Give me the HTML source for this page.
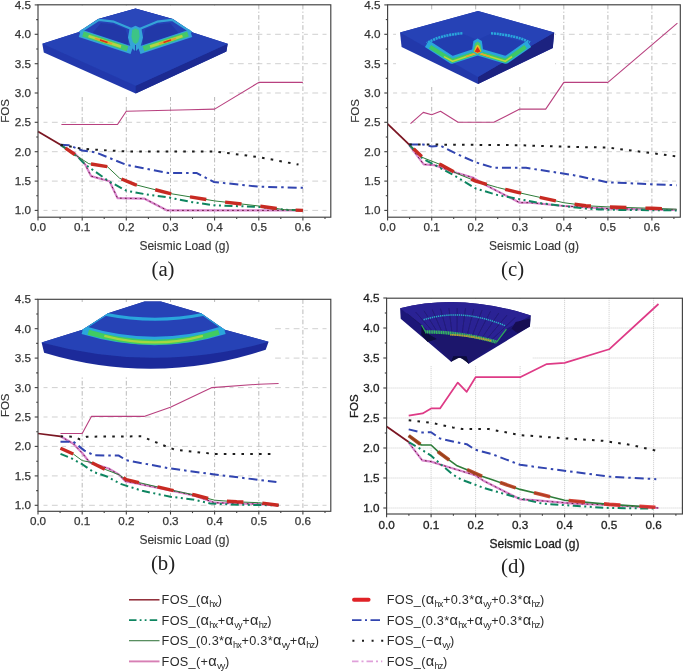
<!DOCTYPE html>
<html lang="en"><head><meta charset="utf-8"><title>FOS vs Seismic Load</title>
<style>
html,body{margin:0;padding:0;background:#fff;}
body{width:685px;height:672px;overflow:hidden;}
svg{display:block;}
.tk{font-family:"Liberation Sans", Arial, sans-serif;font-size:11.7px;fill:#353535;stroke:#353535;stroke-width:0.25px;}
.xl{font-family:"Liberation Sans", Arial, sans-serif;font-size:12px;fill:#353535;stroke:#353535;stroke-width:0.15px;}
.yl{font-family:"Liberation Sans", Arial, sans-serif;font-size:11.5px;fill:#353535;stroke:#353535;stroke-width:0.15px;}
.bd{fill:#1e1e1e;stroke:#1e1e1e;stroke-width:0.32px;}
.cap{font-family:"Liberation Serif", "Times New Roman", serif;font-size:20.8px;fill:#222;}
.lg{font-family:"Liberation Sans", Arial, sans-serif;font-size:12.7px;fill:#2a2a2a;letter-spacing:0.3px;}
.sub{font-size:9.2px;letter-spacing:-0.8px;}
.al{font-size:14.6px;}
</style></head><body>
<svg width="685" height="672" viewBox="0 0 685 672">
<defs><linearGradient id="rdg" gradientUnits="userSpaceOnUse" x1="405" y1="0" x2="660" y2="0"><stop offset="0" stop-color="#9c3812"/><stop offset="0.45" stop-color="#b83a1c"/><stop offset="0.75" stop-color="#d42c24"/><stop offset="1" stop-color="#e22a30"/></linearGradient><filter id="soft0" x="-2%" y="-2%" width="104%" height="104%"><feGaussianBlur stdDeviation="0.3"/></filter><filter id="soft" x="-2%" y="-2%" width="104%" height="104%"><feGaussianBlur stdDeviation="0.45"/></filter><filter id="soft2" x="-5%" y="-5%" width="110%" height="110%"><feGaussianBlur stdDeviation="0.55"/></filter></defs>
<rect width="685" height="672" fill="#fff"/>
<g filter="url(#soft0)">
<line x1="82.2" y1="4.8" x2="82.2" y2="217.2" stroke="#9c9c9c" stroke-width="0.7" stroke-dasharray="4.6 2.2 1.2 2.2"/>
<line x1="126.3" y1="4.8" x2="126.3" y2="217.2" stroke="#9c9c9c" stroke-width="0.7" stroke-dasharray="4.6 2.2 1.2 2.2"/>
<line x1="170.5" y1="4.8" x2="170.5" y2="217.2" stroke="#9c9c9c" stroke-width="0.7" stroke-dasharray="4.6 2.2 1.2 2.2"/>
<line x1="214.6" y1="4.8" x2="214.6" y2="217.2" stroke="#9c9c9c" stroke-width="0.7" stroke-dasharray="4.6 2.2 1.2 2.2"/>
<line x1="258.8" y1="4.8" x2="258.8" y2="217.2" stroke="#9c9c9c" stroke-width="0.7" stroke-dasharray="4.6 2.2 1.2 2.2"/>
<line x1="302.9" y1="4.8" x2="302.9" y2="217.2" stroke="#9c9c9c" stroke-width="0.7" stroke-dasharray="4.6 2.2 1.2 2.2"/>
<line x1="43.5" y1="210.4" x2="330.8" y2="210.4" stroke="#bcbcbc" stroke-width="0.7" stroke-dasharray="4 4.4 5.8 4.4"/>
<line x1="43.5" y1="181.1" x2="330.8" y2="181.1" stroke="#bcbcbc" stroke-width="0.7" stroke-dasharray="4 4.4 5.8 4.4"/>
<line x1="43.5" y1="151.7" x2="330.8" y2="151.7" stroke="#bcbcbc" stroke-width="0.7" stroke-dasharray="4 4.4 5.8 4.4"/>
<line x1="43.5" y1="122.3" x2="330.8" y2="122.3" stroke="#bcbcbc" stroke-width="0.7" stroke-dasharray="4 4.4 5.8 4.4"/>
<line x1="43.5" y1="93.0" x2="330.8" y2="93.0" stroke="#bcbcbc" stroke-width="0.7" stroke-dasharray="4 4.4 5.8 4.4"/>
<line x1="43.5" y1="63.7" x2="330.8" y2="63.7" stroke="#bcbcbc" stroke-width="0.7" stroke-dasharray="4 4.4 5.8 4.4"/>
<line x1="43.5" y1="34.3" x2="330.8" y2="34.3" stroke="#bcbcbc" stroke-width="0.7" stroke-dasharray="4 4.4 5.8 4.4"/>
<line x1="431.7" y1="4.8" x2="431.7" y2="217.2" stroke="#9c9c9c" stroke-width="0.7" stroke-dasharray="4.6 2.2 1.2 2.2"/>
<line x1="475.7" y1="4.8" x2="475.7" y2="217.2" stroke="#9c9c9c" stroke-width="0.7" stroke-dasharray="4.6 2.2 1.2 2.2"/>
<line x1="519.8" y1="4.8" x2="519.8" y2="217.2" stroke="#9c9c9c" stroke-width="0.7" stroke-dasharray="4.6 2.2 1.2 2.2"/>
<line x1="563.8" y1="4.8" x2="563.8" y2="217.2" stroke="#9c9c9c" stroke-width="0.7" stroke-dasharray="4.6 2.2 1.2 2.2"/>
<line x1="607.9" y1="4.8" x2="607.9" y2="217.2" stroke="#9c9c9c" stroke-width="0.7" stroke-dasharray="4.6 2.2 1.2 2.2"/>
<line x1="651.9" y1="4.8" x2="651.9" y2="217.2" stroke="#9c9c9c" stroke-width="0.7" stroke-dasharray="4.6 2.2 1.2 2.2"/>
<line x1="393.1" y1="210.4" x2="680.3" y2="210.4" stroke="#bcbcbc" stroke-width="0.7" stroke-dasharray="4 4.4 5.8 4.4"/>
<line x1="393.1" y1="181.1" x2="680.3" y2="181.1" stroke="#bcbcbc" stroke-width="0.7" stroke-dasharray="4 4.4 5.8 4.4"/>
<line x1="393.1" y1="151.7" x2="680.3" y2="151.7" stroke="#bcbcbc" stroke-width="0.7" stroke-dasharray="4 4.4 5.8 4.4"/>
<line x1="393.1" y1="122.3" x2="680.3" y2="122.3" stroke="#bcbcbc" stroke-width="0.7" stroke-dasharray="4 4.4 5.8 4.4"/>
<line x1="393.1" y1="93.0" x2="680.3" y2="93.0" stroke="#bcbcbc" stroke-width="0.7" stroke-dasharray="4 4.4 5.8 4.4"/>
<line x1="393.1" y1="63.7" x2="680.3" y2="63.7" stroke="#bcbcbc" stroke-width="0.7" stroke-dasharray="4 4.4 5.8 4.4"/>
<line x1="393.1" y1="34.3" x2="680.3" y2="34.3" stroke="#bcbcbc" stroke-width="0.7" stroke-dasharray="4 4.4 5.8 4.4"/>
<line x1="82.2" y1="299.3" x2="82.2" y2="511.3" stroke="#9c9c9c" stroke-width="0.7" stroke-dasharray="4.6 2.2 1.2 2.2"/>
<line x1="126.3" y1="299.3" x2="126.3" y2="511.3" stroke="#9c9c9c" stroke-width="0.7" stroke-dasharray="4.6 2.2 1.2 2.2"/>
<line x1="170.5" y1="299.3" x2="170.5" y2="511.3" stroke="#9c9c9c" stroke-width="0.7" stroke-dasharray="4.6 2.2 1.2 2.2"/>
<line x1="214.6" y1="299.3" x2="214.6" y2="511.3" stroke="#9c9c9c" stroke-width="0.7" stroke-dasharray="4.6 2.2 1.2 2.2"/>
<line x1="258.8" y1="299.3" x2="258.8" y2="511.3" stroke="#9c9c9c" stroke-width="0.7" stroke-dasharray="4.6 2.2 1.2 2.2"/>
<line x1="302.9" y1="299.3" x2="302.9" y2="511.3" stroke="#9c9c9c" stroke-width="0.7" stroke-dasharray="4.6 2.2 1.2 2.2"/>
<line x1="43.5" y1="505.3" x2="330.8" y2="505.3" stroke="#bcbcbc" stroke-width="0.7" stroke-dasharray="4 4.4 5.8 4.4"/>
<line x1="43.5" y1="475.9" x2="330.8" y2="475.9" stroke="#bcbcbc" stroke-width="0.7" stroke-dasharray="4 4.4 5.8 4.4"/>
<line x1="43.5" y1="446.4" x2="330.8" y2="446.4" stroke="#bcbcbc" stroke-width="0.7" stroke-dasharray="4 4.4 5.8 4.4"/>
<line x1="43.5" y1="417.0" x2="330.8" y2="417.0" stroke="#bcbcbc" stroke-width="0.7" stroke-dasharray="4 4.4 5.8 4.4"/>
<line x1="43.5" y1="387.6" x2="330.8" y2="387.6" stroke="#bcbcbc" stroke-width="0.7" stroke-dasharray="4 4.4 5.8 4.4"/>
<line x1="43.5" y1="358.1" x2="330.8" y2="358.1" stroke="#bcbcbc" stroke-width="0.7" stroke-dasharray="4 4.4 5.8 4.4"/>
<line x1="43.5" y1="328.7" x2="330.8" y2="328.7" stroke="#bcbcbc" stroke-width="0.7" stroke-dasharray="4 4.4 5.8 4.4"/>
<line x1="431.1" y1="298.2" x2="431.1" y2="514.0" stroke="#c6c6c6" stroke-width="0.9" stroke-dasharray="1 1"/>
<line x1="475.6" y1="298.2" x2="475.6" y2="514.0" stroke="#c6c6c6" stroke-width="0.9" stroke-dasharray="1 1"/>
<line x1="520.1" y1="298.2" x2="520.1" y2="514.0" stroke="#c6c6c6" stroke-width="0.9" stroke-dasharray="1 1"/>
<line x1="564.6" y1="298.2" x2="564.6" y2="514.0" stroke="#c6c6c6" stroke-width="0.9" stroke-dasharray="1 1"/>
<line x1="609.1" y1="298.2" x2="609.1" y2="514.0" stroke="#c6c6c6" stroke-width="0.9" stroke-dasharray="1 1"/>
<line x1="653.6" y1="298.2" x2="653.6" y2="514.0" stroke="#c6c6c6" stroke-width="0.9" stroke-dasharray="1 1"/>
<line x1="386.6" y1="508.0" x2="682.4" y2="508.0" stroke="#c6c6c6" stroke-width="0.9" stroke-dasharray="1 1"/>
<line x1="386.6" y1="478.0" x2="682.4" y2="478.0" stroke="#c6c6c6" stroke-width="0.9" stroke-dasharray="1 1"/>
<line x1="386.6" y1="448.0" x2="682.4" y2="448.0" stroke="#c6c6c6" stroke-width="0.9" stroke-dasharray="1 1"/>
<line x1="386.6" y1="418.0" x2="682.4" y2="418.0" stroke="#c6c6c6" stroke-width="0.9" stroke-dasharray="1 1"/>
<line x1="386.6" y1="388.0" x2="682.4" y2="388.0" stroke="#c6c6c6" stroke-width="0.9" stroke-dasharray="1 1"/>
<line x1="386.6" y1="358.0" x2="682.4" y2="358.0" stroke="#c6c6c6" stroke-width="0.9" stroke-dasharray="1 1"/>
<line x1="386.6" y1="328.0" x2="682.4" y2="328.0" stroke="#c6c6c6" stroke-width="0.9" stroke-dasharray="1 1"/>
</g>
<g filter="url(#soft)">
<rect x="38.5" y="5.5" width="189.5" height="91.5" fill="#fff"/>
<g filter="url(#soft2)">
<polygon points="42.3,43.8 78.2,32.2 98.1,19.0 135.5,8.6 172.9,19.0 192.8,32.6 227.7,43.8 226.4,51.4 135.7,93.6 43.8,52.6" fill="#2239ac"/>
<polygon points="135.7,85.6 227.7,43.8 226.4,51.4 135.7,93.6" fill="#1b2c92"/>
<polygon points="42.3,43.8 78.2,32.2 98.1,19.0 135.5,8.6 172.9,19.0 192.8,32.6 227.7,43.8 135.7,85.8" fill="#2642b6"/>
<polygon points="98.1,19.3 135.5,8.8 172.9,19.3 135.5,29.0" fill="#2946ba"/>
<polygon points="101.0,23.0 113.9,24.4 125.5,29.0 128.6,38.5 127.6,46.0 92.0,33.5" fill="#2139a8"/>
<polygon points="170.0,23.0 157.1,24.4 145.5,29.0 142.4,38.5 143.4,46.0 179.0,33.5" fill="#2139a8"/>
<polyline points="79.5,32.4 98.9,19.9 113.9,21.7 127.2,27.2 131.5,29.0" fill="none" stroke="#34a4d8" stroke-width="2.3" stroke-linejoin="round"/>
<polyline points="191.5,32.4 172.1,19.9 157.1,21.7 143.8,27.2 139.5,29.0" fill="none" stroke="#34a4d8" stroke-width="2.3" stroke-linejoin="round"/>
<polygon points="129.6,28.5 135.5,25.8 141.4,28.5 143.0,37.5 140.6,46.5 135.5,51.5 130.4,46.5 128.0,37.5" fill="#34a4d8"/>
<polygon points="132.2,30.0 135.5,28.2 138.8,30.0 139.6,36.5 138.2,42.0 135.5,44.0 132.8,42.0 131.4,36.5" fill="#3cc486"/>
<line x1="135.5" y1="45" x2="135.5" y2="52" stroke="#2139a8" stroke-width="0.9"/>
<polyline points="80.0,33.2 131.8,50.4" fill="none" stroke="#34a4d8" stroke-width="7.8"/>
<polyline points="191.0,33.2 139.2,50.4" fill="none" stroke="#34a4d8" stroke-width="7.8"/>
<polyline points="83.0,34.0 127.5,48.8" fill="none" stroke="#44c86a" stroke-width="5.2"/>
<polyline points="188.0,34.0 143.5,48.8" fill="none" stroke="#44c86a" stroke-width="5.2"/>
<polyline points="88.5,36.0 121.0,46.6" fill="none" stroke="#b4d444" stroke-width="2.8"/>
<polyline points="182.5,36.0 150.0,46.6" fill="none" stroke="#b4d444" stroke-width="2.8"/>
<polyline points="95.0,38.3 112.0,43.9" fill="none" stroke="#e0a030" stroke-width="1.8"/>
<polyline points="176.0,38.3 159.0,43.9" fill="none" stroke="#e0a030" stroke-width="1.8"/>
<polyline points="100.0,40.0 107.5,42.5" fill="none" stroke="#dc3018" stroke-width="1.7"/>
<polyline points="171.0,40.0 163.5,42.5" fill="none" stroke="#dc3018" stroke-width="1.7"/>
</g>
<rect x="396.0" y="10.0" width="159.0" height="77.0" fill="#fff"/>
<g filter="url(#soft2)">
<polygon points="400.0,32.4 478.0,11.0 554.2,32.4 552.8,48.0 478.0,84.0 401.6,47.0" fill="#2239aa"/>
<polygon points="478.0,76.7 554.2,32.4 552.8,48.0 478.0,84.0" fill="#1d2280"/>
<polygon points="400.0,32.4 478.0,11.0 554.2,32.4 478.0,76.9" fill="#2642b6"/>
<polygon points="428.0,43.0 462.0,33.5 477.6,40.0 491.0,33.5 526.0,43.0 506.0,60.0 477.6,51.5 452.0,60.0" fill="#233eb0"/>
<path d="M462.4,33.3 Q440,35 426.8,43.2" fill="none" stroke="#2aa6dc" stroke-width="2.6" stroke-dasharray="2.1 0.7"/>
<path d="M491,33.3 Q515,35 530,42.4" fill="none" stroke="#2aa6dc" stroke-width="2.6" stroke-dasharray="2.1 0.7"/>
<polyline points="427.0,43.8 452.0,60.0 477.6,51.6 506.0,60.0 529.0,43.8" fill="none" stroke="#2aa6dc" stroke-width="7.6" stroke-linejoin="round"/>
<polyline points="430.0,46.8 452.4,60.8 477.6,52.4 505.6,60.8 525.6,46.8" fill="none" stroke="#3cc868" stroke-width="4.2" stroke-linejoin="round"/>
<polyline points="444.0,56.6 452.6,61.2 477.6,52.8 505.4,61.2 512.0,56.6" fill="none" stroke="#bcd63c" stroke-width="1.6" stroke-linejoin="round"/>
<polyline points="466.0,56.6 477.6,52.8 490.0,56.8" fill="none" stroke="#e8a42c" stroke-width="1.6" stroke-linejoin="round"/>
<polygon points="473.4,41.0 477.6,38.6 481.8,41.0 483.4,52.0 477.6,55.0 471.8,52.0" fill="#2aa6dc"/>
<polygon points="475.0,43.5 477.6,41.5 480.2,43.5 482.0,51.5 477.6,54.0 473.2,51.5" fill="#4ccc6a"/>
<polygon points="476.0,46.0 477.6,44.5 479.2,46.0 481.2,51.6 477.6,53.4 474.0,51.6" fill="#e8c028"/>
<polygon points="477.6,46.8 480.6,51.6 477.6,52.8 474.6,51.6" fill="#de2a18"/>
</g>
<rect x="38.5" y="302.0" width="232.5" height="74.0" fill="#fff"/>
<g filter="url(#soft2)">
<path d="M41.6,342.4 L82.4,329.7 L108.0,313.2 L144.5,301.6 L160.9,301.6 L201.1,313.2 L224.8,329.7 L268.6,341.7 L265.7,349.7 Q155.4,386.2 44.1,352.7 Z" fill="#1d2c9a"/>
<clipPath id="cpb"><path d="M41.6,342.4 L82.4,329.7 L108.0,313.2 L144.5,301.6 L160.9,301.6 L201.1,313.2 L224.8,329.7 L268.6,341.7 Q155.4,373.5 41.6,342.4 Z"/></clipPath>
<path d="M41.6,342.4 L82.4,329.7 L108.0,313.2 L144.5,301.6 L160.9,301.6 L201.1,313.2 L224.8,329.7 L268.6,341.7 Q155.4,373.5 41.6,342.4 Z" fill="#2743b6"/>
<g clip-path="url(#cpb)">
<polyline points="82.4,330.0 108.0,313.6" fill="none" stroke="#2aa6dc" stroke-width="1.6"/>
<polyline points="224.8,330.0 201.1,313.6" fill="none" stroke="#2aa6dc" stroke-width="1.6"/>
<path d="M105.1,314.3 Q155.4,324.2 204.0,314.3" fill="none" stroke="#2aa6dc" stroke-width="3.0"/>
<path d="M82.8,330.0 Q155.4,351.9 224.4,330.0" fill="none" stroke="#2aa6dc" stroke-width="8.6"/>
<path d="M88.3,332.2 Q155.4,352.3 218.9,332.2" fill="none" stroke="#3fcb62" stroke-width="5.2"/>
<path d="M104.3,335.9 Q155.4,349.0 202.9,335.9" fill="none" stroke="#a4d640" stroke-width="2.2"/>
</g>
</g>
<rect x="387.5" y="299.0" width="145.0" height="67.0" fill="#fff"/>
<g filter="url(#soft2)">
<path d="M400.1,308.2 Q460.4,292.9 530.9,315.4 L529.9,326.6 L468.6,363.8 Q460.0,352.8 451.2,361.8 L400.7,318.8 Z" fill="#1f1878"/>
<path d="M400.1,308.2 Q460.4,292.9 530.9,315.4 L506.4,328.7 L496.6,342.6 Q460.4,332.7 425.7,332.7 L421.6,324.6 Z" fill="#2b2294"/>
<path d="M425.7,333.2 Q460.4,333.2 496.6,343.0 L468.6,363.8 Q460.0,352.8 451.2,361.8 L425.7,333.2 Z" fill="#1c166c"/>
<polygon points="421.6,325.0 426.1,332.7 436.9,338.9 427.7,341.9 421.2,334.8" fill="#0e0c40"/>
<polygon points="453.2,356.2 466.5,356.2 469.0,363.8 460.0,357.3 451.2,361.8" fill="#0c0a3a"/>
<polygon points="515.6,322.1 530.3,318.4 529.9,326.6 517.6,333.2 511.5,328.7" fill="#161052"/>
<line x1="407.3" y1="313.6" x2="427.7" y2="330.7" stroke="#141050" stroke-width="0.55" opacity="0.8"/>
<line x1="415.6" y1="312.0" x2="432.6" y2="331.4" stroke="#141050" stroke-width="0.55" opacity="0.8"/>
<line x1="423.9" y1="310.7" x2="437.5" y2="332.2" stroke="#141050" stroke-width="0.55" opacity="0.8"/>
<line x1="432.2" y1="309.5" x2="442.4" y2="332.9" stroke="#141050" stroke-width="0.55" opacity="0.8"/>
<line x1="440.5" y1="308.7" x2="447.3" y2="333.6" stroke="#141050" stroke-width="0.55" opacity="0.8"/>
<line x1="448.9" y1="308.1" x2="452.2" y2="334.3" stroke="#141050" stroke-width="0.55" opacity="0.8"/>
<line x1="457.2" y1="308.0" x2="457.0" y2="335.1" stroke="#141050" stroke-width="0.55" opacity="0.8"/>
<line x1="465.5" y1="308.2" x2="461.9" y2="335.8" stroke="#141050" stroke-width="0.55" opacity="0.8"/>
<line x1="473.8" y1="308.9" x2="466.8" y2="336.5" stroke="#141050" stroke-width="0.55" opacity="0.8"/>
<line x1="482.2" y1="309.9" x2="471.7" y2="337.3" stroke="#141050" stroke-width="0.55" opacity="0.8"/>
<line x1="490.5" y1="311.3" x2="476.6" y2="338.0" stroke="#141050" stroke-width="0.55" opacity="0.8"/>
<line x1="498.8" y1="313.0" x2="481.5" y2="338.7" stroke="#141050" stroke-width="0.55" opacity="0.8"/>
<line x1="507.1" y1="315.0" x2="486.4" y2="339.5" stroke="#141050" stroke-width="0.55" opacity="0.8"/>
<line x1="515.4" y1="317.3" x2="491.3" y2="340.2" stroke="#141050" stroke-width="0.55" opacity="0.8"/>
<line x1="523.8" y1="319.7" x2="496.2" y2="340.9" stroke="#141050" stroke-width="0.55" opacity="0.8"/>
<path d="M423.6,319.7 Q462.4,307.8 505.4,325.8" fill="none" stroke="#2ab0c6" stroke-width="1.5" stroke-dasharray="1.3 0.8"/>
<path d="M425.2,331.9 Q460.4,331.9 496.6,342.1" fill="none" stroke="#35b860" stroke-width="3.4" stroke-dasharray="1.3 0.45"/>
<path d="M450.2,334.8 Q468.6,335.2 491.1,340.9" fill="none" stroke="#c09a34" stroke-width="1.8" stroke-dasharray="1.3 0.45"/>
<polyline points="421.6,325.0 425.7,332.3" fill="none" stroke="#2fae58" stroke-width="1.2"/>
<polyline points="496.6,342.1 506.4,329.1" fill="none" stroke="#2fae58" stroke-width="1.2"/>
</g>
<polyline points="60.5,145.2 74.4,152.9 85.2,164.6 91.0,176.1 109.5,181.2 117.5,198.1 144.6,198.7 167.2,210.4 302.9,210.4" fill="none" stroke="#d884cc" stroke-width="2.2" stroke-linecap="butt" stroke-linejoin="round" />
<polyline points="60.5,145.2 74.4,152.9 85.2,164.6 91.0,176.1 109.5,181.2 117.5,198.1 144.6,198.7 167.2,210.4 302.9,210.4" fill="none" stroke="#5a1030" stroke-width="0.9" stroke-dasharray="1.8 3.2" stroke-linecap="butt" stroke-linejoin="round" />
<polyline points="60.5,144.7 78.6,157.6 85.2,164.6 95.4,171.7 108.6,181.1 126.3,190.7 144.0,194.0 168.7,197.5 192.5,202.2 214.6,205.3 258.8,206.9 284.8,209.8 302.9,210.4" fill="none" stroke="#0f8560" stroke-width="2.0" stroke-dasharray="8 3.5 2 3.5 2 3.5" stroke-linecap="butt" stroke-linejoin="round" />
<polyline points="60.5,144.7 78.6,157.1 88.8,163.7 107.3,166.6 119.7,178.3 135.1,184.6 170.4,193.6 214.6,200.9 258.8,206.0 284.8,209.7 302.9,210.4" fill="none" stroke="#2f7d3a" stroke-width="1.0" stroke-linecap="butt" stroke-linejoin="round" />
<polyline points="60.5,144.7 78.6,157.1 88.8,163.7 107.3,166.6 119.7,178.3 135.1,184.6 170.4,193.6 214.6,200.9 258.8,206.0 284.8,209.7 302.9,210.4" fill="none" stroke="#c82a22" stroke-width="3.4" stroke-dasharray="0 6 11.3 19 16.5 19 16.5 19 16.5 19 16.5 19 16.5 19 16.5 19 16.5 19 16.5 19 16.5 19 16.5 19 16.5 19 16.5 19 16.5 19 16.5 19" stroke-linecap="butt" stroke-linejoin="round" />
<polyline points="60.5,144.7 68.9,145.2 82.2,150.5 95.4,152.3 126.3,164.8 168.7,173.1 196.9,173.1 213.7,181.9 258.8,186.7 302.9,187.8" fill="none" stroke="#3044b0" stroke-width="2.0" stroke-dasharray="9 4 2.5 4" stroke-linecap="butt" stroke-linejoin="round" />
<polyline points="60.5,144.7 82.2,148.8 108.6,150.5 126.3,151.4 214.6,151.4 258.8,157.1 298.5,164.6" fill="none" stroke="#1c1c1c" stroke-width="2.0" stroke-dasharray="2.6 6.2" stroke-linecap="butt" stroke-linejoin="round" />
<polyline points="61.4,124.5 117.5,124.5 126.3,111.2 189.4,109.7 214.6,109.1 258.8,82.4 302.9,82.4" fill="none" stroke="#b8407f" stroke-width="1.1" stroke-linecap="butt" stroke-linejoin="round" />
<polyline points="38.0,131.4 60.5,144.7" fill="none" stroke="#7a1420" stroke-width="1.75" stroke-linecap="butt" stroke-linejoin="round" />
<polyline points="409.2,145.2 423.7,164.4 434.6,165.2 455.0,172.4 472.6,177.5 485.0,184.8 519.8,202.7 530.3,202.7 563.8,206.0 607.9,208.6 676.6,209.8" fill="none" stroke="#d884cc" stroke-width="2.2" stroke-linecap="butt" stroke-linejoin="round" />
<polyline points="409.2,145.2 423.7,164.4 434.6,165.2 455.0,172.4 472.6,177.5 485.0,184.8 519.8,202.7 530.3,202.7 563.8,206.0 607.9,208.6 676.6,209.8" fill="none" stroke="#5a1030" stroke-width="0.9" stroke-dasharray="1.8 3.2" stroke-linecap="butt" stroke-linejoin="round" />
<polyline points="409.2,144.7 422.8,158.7 431.7,163.4 453.7,175.2 475.7,188.5 497.7,195.1 519.8,199.2 541.8,203.4 563.8,206.0 585.8,208.6 607.9,209.8 676.6,210.4" fill="none" stroke="#0f8560" stroke-width="2.0" stroke-dasharray="8 3.5 2 3.5 2 3.5" stroke-linecap="butt" stroke-linejoin="round" />
<polyline points="409.2,144.7 422.8,157.6 440.5,164.6 458.1,174.0 475.7,181.1 497.7,187.5 519.8,192.9 563.8,202.7 585.8,205.7 607.9,206.9 651.9,208.3 676.6,209.2" fill="none" stroke="#2f7d3a" stroke-width="1.0" stroke-linecap="butt" stroke-linejoin="round" />
<polyline points="409.2,144.7 422.8,157.6 440.5,164.6 458.1,174.0 475.7,181.1 497.7,187.5 519.8,192.9 563.8,202.7 585.8,205.7 607.9,206.9 651.9,208.3 676.6,209.2" fill="none" stroke="#c82a22" stroke-width="3.4" stroke-dasharray="0 6 11.3 19 16.5 19 16.5 19 16.5 19 16.5 19 16.5 19 16.5 19 16.5 19 16.5 19 16.5 19 16.5 19 16.5 19 16.5 19 16.5 19 16.5 19" stroke-linecap="butt" stroke-linejoin="round" />
<polyline points="409.2,144.4 422.8,144.4 431.7,146.4 440.5,145.8 458.1,154.6 475.7,162.3 493.8,167.8 525.9,167.8 574.8,175.4 607.9,182.3 676.6,185.3" fill="none" stroke="#3044b0" stroke-width="2.0" stroke-dasharray="9 4 2.5 4" stroke-linecap="butt" stroke-linejoin="round" />
<polyline points="409.2,144.4 519.8,145.2 563.8,146.7 607.9,147.6 645.3,152.3 676.6,156.4" fill="none" stroke="#1c1c1c" stroke-width="2.0" stroke-dasharray="2.6 6.2" stroke-linecap="butt" stroke-linejoin="round" />
<polyline points="410.5,123.7 423.3,112.4 431.7,114.7 440.5,111.2 458.1,122.3 493.8,122.3 519.8,109.1 545.7,109.1 563.8,82.4 607.9,82.4 677.4,23.1" fill="none" stroke="#b8407f" stroke-width="1.1" stroke-linecap="butt" stroke-linejoin="round" />
<polyline points="387.6,123.8 409.2,144.7" fill="none" stroke="#7a1420" stroke-width="1.75" stroke-linecap="butt" stroke-linejoin="round" />
<polyline points="60.5,436.3 73.3,443.7 82.2,453.0 89.7,462.5 108.6,468.5 118.8,474.5 125.4,481.3 135.1,483.1 170.4,490.3 194.7,495.6 214.6,502.7 258.8,504.1 278.6,505.3" fill="none" stroke="#d884cc" stroke-width="2.2" stroke-linecap="butt" stroke-linejoin="round" />
<polyline points="60.5,436.3 73.3,443.7 82.2,453.0 89.7,462.5 108.6,468.5 118.8,474.5 125.4,481.3 135.1,483.1 170.4,490.3 194.7,495.6 214.6,502.7 258.8,504.1 278.6,505.3" fill="none" stroke="#5a1030" stroke-width="0.9" stroke-dasharray="1.8 3.2" stroke-linecap="butt" stroke-linejoin="round" />
<polyline points="60.5,453.9 71.1,458.2 82.2,464.2 93.2,471.9 106.9,476.5 120.6,483.9 142.2,490.8 170.4,496.7 192.5,499.4 210.2,503.5 236.7,504.7 278.6,505.3" fill="none" stroke="#0f8560" stroke-width="2.0" stroke-dasharray="8 3.5 2 3.5 2 3.5" stroke-linecap="butt" stroke-linejoin="round" />
<polyline points="60.5,448.3 73.3,454.0 82.2,460.6 91.0,462.3 105.1,469.4 118.8,474.7 126.3,479.6 170.4,489.9 194.7,495.0 214.6,500.2 236.7,501.8 258.8,502.7 278.6,505.3" fill="none" stroke="#2f7d3a" stroke-width="1.0" stroke-linecap="butt" stroke-linejoin="round" />
<polyline points="60.5,448.3 73.3,454.0 82.2,460.6 91.0,462.3 105.1,469.4 118.8,474.7 126.3,479.6 170.4,489.9 194.7,495.0 214.6,500.2 236.7,501.8 258.8,502.7 278.6,505.3" fill="none" stroke="#c82a22" stroke-width="3.4" stroke-dasharray="14 21 14.5 20.5 16.5 19 16.5 19 16.5 19 16.5 19 16.5 19 16.5 19 16.5 19 16.5 19 16.5 19 16.5 19 16.5 19 16.5 19 16.5 19 16.5 19" stroke-linecap="butt" stroke-linejoin="round" />
<polyline points="60.5,441.7 73.3,441.7 84.4,450.6 94.1,455.3 118.8,455.6 126.3,460.3 170.4,468.5 214.6,474.5 276.4,482.0" fill="none" stroke="#3044b0" stroke-width="2.0" stroke-dasharray="9 4 2.5 4" stroke-linecap="butt" stroke-linejoin="round" />
<polyline points="60.5,436.3 73.3,436.7 79.9,439.4 86.6,436.7 141.3,436.3 166.0,446.4 174.9,449.7 214.6,454.0 276.4,454.0" fill="none" stroke="#1c1c1c" stroke-width="2.0" stroke-dasharray="2.6 6.2" stroke-linecap="butt" stroke-linejoin="round" />
<polyline points="60.5,433.5 82.2,433.5 91.4,416.4 144.0,416.4 170.4,407.2 212.0,387.6 258.8,384.2 278.6,383.5" fill="none" stroke="#b8407f" stroke-width="1.1" stroke-linecap="butt" stroke-linejoin="round" />
<polyline points="38.0,433.5 60.5,436.3" fill="none" stroke="#7a1420" stroke-width="1.75" stroke-linecap="butt" stroke-linejoin="round" />
<polyline points="408.7,442.6 422.2,460.3 431.1,461.6 440.9,464.8 475.2,475.3 484.5,481.3 520.1,499.3 534.1,500.2 573.9,503.6 609.1,505.0 658.5,508.0" fill="none" stroke="#d884cc" stroke-width="2.2" stroke-linecap="butt" stroke-linejoin="round" />
<polyline points="408.7,442.6 422.2,460.3 431.1,461.6 440.9,464.8 475.2,475.3 484.5,481.3 520.1,499.3 534.1,500.2 573.9,503.6 609.1,505.0 658.5,508.0" fill="none" stroke="#5a1030" stroke-width="0.9" stroke-dasharray="1.8 3.2" stroke-linecap="butt" stroke-linejoin="round" />
<polyline points="408.7,442.0 420.0,448.6 431.1,455.7 442.7,466.0 452.9,474.5 461.4,479.6 473.4,484.0 484.5,488.2 520.1,498.5 542.4,503.6 573.9,505.8 609.1,508.0 655.4,508.6" fill="none" stroke="#0f8560" stroke-width="2.0" stroke-dasharray="8 3.5 2 3.5 2 3.5" stroke-linecap="butt" stroke-linejoin="round" />
<polyline points="408.7,435.6 421.3,445.0 431.1,445.0 438.7,452.2 449.6,460.3 456.5,465.4 467.6,469.9 481.8,476.2 491.6,479.6 520.1,489.4 542.4,494.8 564.6,500.2 609.1,504.4 655.4,507.2" fill="none" stroke="#2f7d3a" stroke-width="1.6" stroke-linecap="butt" stroke-linejoin="round" />
<polyline points="408.7,435.6 421.3,445.0 431.1,445.0 438.7,452.2 449.6,460.3 456.5,465.4 467.6,469.9 481.8,476.2 491.6,479.6 520.1,489.4 542.4,494.8 564.6,500.2 609.1,504.4 655.4,507.2" fill="none" stroke="url(#rdg)" stroke-width="3.6" stroke-dasharray="14.5 20.5 14 20.5 16.5 19 16.5 19 16.5 19 16.5 19 16.5 19 16.5 19 16.5 19 16.5 19 16.5 19 16.5 19 16.5 19 16.5 19 16.5 19 16.5 19" stroke-linecap="butt" stroke-linejoin="round" opacity="0.9"/>
<polyline points="408.7,429.4 421.3,432.5 431.1,432.2 440.0,438.5 454.7,442.0 466.7,444.2 475.2,449.7 491.6,454.0 520.1,464.8 573.9,472.0 609.1,476.6 656.3,479.2" fill="none" stroke="#3044b0" stroke-width="2.0" stroke-dasharray="9 4 2.5 4" stroke-linecap="butt" stroke-linejoin="round" />
<polyline points="408.7,420.2 431.1,422.8 452.9,427.4 462.2,429.1 489.0,429.1 520.1,435.1 566.8,438.5 602.9,440.8 631.4,445.0 655.4,450.5" fill="none" stroke="#1c1c1c" stroke-width="2.0" stroke-dasharray="2.6 6.2" stroke-linecap="butt" stroke-linejoin="round" />
<polyline points="408.7,415.6 422.6,413.4 431.1,408.4 440.0,408.4 457.8,382.6 466.7,391.8 475.6,377.2 520.1,377.2 546.8,364.1 564.6,362.9 609.1,349.3 658.5,304.0" fill="none" stroke="#de3a86" stroke-width="1.7" stroke-linecap="butt" stroke-linejoin="round" />
<polyline points="386.6,426.5 408.7,442.0" fill="none" stroke="#7a1420" stroke-width="1.75" stroke-linecap="butt" stroke-linejoin="round" />
<rect x="38.0" y="4.8" width="292.8" height="212.4" fill="none" stroke="#414141" stroke-width="1.15"/>
<line x1="38.0" y1="217.2" x2="38.0" y2="220.5" stroke="#414141" stroke-width="1.1"/>
<text x="38.0" y="231.1" text-anchor="middle" class="tk">0.0</text>
<line x1="60.1" y1="217.2" x2="60.1" y2="219.0" stroke="#414141" stroke-width="1.1"/>
<line x1="82.2" y1="217.2" x2="82.2" y2="220.5" stroke="#414141" stroke-width="1.1"/>
<text x="82.2" y="231.1" text-anchor="middle" class="tk">0.1</text>
<line x1="104.2" y1="217.2" x2="104.2" y2="219.0" stroke="#414141" stroke-width="1.1"/>
<line x1="126.3" y1="217.2" x2="126.3" y2="220.5" stroke="#414141" stroke-width="1.1"/>
<text x="126.3" y="231.1" text-anchor="middle" class="tk">0.2</text>
<line x1="148.4" y1="217.2" x2="148.4" y2="219.0" stroke="#414141" stroke-width="1.1"/>
<line x1="170.5" y1="217.2" x2="170.5" y2="220.5" stroke="#414141" stroke-width="1.1"/>
<text x="170.5" y="231.1" text-anchor="middle" class="tk">0.3</text>
<line x1="192.5" y1="217.2" x2="192.5" y2="219.0" stroke="#414141" stroke-width="1.1"/>
<line x1="214.6" y1="217.2" x2="214.6" y2="220.5" stroke="#414141" stroke-width="1.1"/>
<text x="214.6" y="231.1" text-anchor="middle" class="tk">0.4</text>
<line x1="236.7" y1="217.2" x2="236.7" y2="219.0" stroke="#414141" stroke-width="1.1"/>
<line x1="258.8" y1="217.2" x2="258.8" y2="220.5" stroke="#414141" stroke-width="1.1"/>
<text x="258.8" y="231.1" text-anchor="middle" class="tk">0.5</text>
<line x1="280.8" y1="217.2" x2="280.8" y2="219.0" stroke="#414141" stroke-width="1.1"/>
<line x1="302.9" y1="217.2" x2="302.9" y2="220.5" stroke="#414141" stroke-width="1.1"/>
<text x="302.9" y="231.1" text-anchor="middle" class="tk">0.6</text>
<line x1="325.0" y1="217.2" x2="325.0" y2="219.0" stroke="#414141" stroke-width="1.1"/>
<line x1="34.7" y1="210.4" x2="38.0" y2="210.4" stroke="#414141" stroke-width="1.1"/>
<text x="31.0" y="214.4" text-anchor="end" class="tk">1.0</text>
<line x1="36.2" y1="195.7" x2="38.0" y2="195.7" stroke="#414141" stroke-width="1.1"/>
<line x1="34.7" y1="181.1" x2="38.0" y2="181.1" stroke="#414141" stroke-width="1.1"/>
<text x="31.0" y="185.1" text-anchor="end" class="tk">1.5</text>
<line x1="36.2" y1="166.4" x2="38.0" y2="166.4" stroke="#414141" stroke-width="1.1"/>
<line x1="34.7" y1="151.7" x2="38.0" y2="151.7" stroke="#414141" stroke-width="1.1"/>
<text x="31.0" y="155.7" text-anchor="end" class="tk">2.0</text>
<line x1="36.2" y1="137.0" x2="38.0" y2="137.0" stroke="#414141" stroke-width="1.1"/>
<line x1="34.7" y1="122.3" x2="38.0" y2="122.3" stroke="#414141" stroke-width="1.1"/>
<text x="31.0" y="126.3" text-anchor="end" class="tk">2.5</text>
<line x1="36.2" y1="107.7" x2="38.0" y2="107.7" stroke="#414141" stroke-width="1.1"/>
<line x1="34.7" y1="93.0" x2="38.0" y2="93.0" stroke="#414141" stroke-width="1.1"/>
<text x="31.0" y="97.0" text-anchor="end" class="tk">3.0</text>
<line x1="36.2" y1="78.3" x2="38.0" y2="78.3" stroke="#414141" stroke-width="1.1"/>
<line x1="34.7" y1="63.7" x2="38.0" y2="63.7" stroke="#414141" stroke-width="1.1"/>
<text x="31.0" y="67.7" text-anchor="end" class="tk">3.5</text>
<line x1="36.2" y1="49.0" x2="38.0" y2="49.0" stroke="#414141" stroke-width="1.1"/>
<line x1="34.7" y1="34.3" x2="38.0" y2="34.3" stroke="#414141" stroke-width="1.1"/>
<text x="31.0" y="38.3" text-anchor="end" class="tk">4.0</text>
<line x1="36.2" y1="19.6" x2="38.0" y2="19.6" stroke="#414141" stroke-width="1.1"/>
<line x1="34.7" y1="4.9" x2="38.0" y2="4.9" stroke="#414141" stroke-width="1.1"/>
<text x="31.0" y="8.9" text-anchor="end" class="tk">4.5</text>
<text x="184.4" y="250.0" text-anchor="middle" class="xl">Seismic Load (g)</text>
<text transform="translate(9.2,111.0) rotate(-90)" text-anchor="middle" class="yl">FOS</text>
<text x="163.0" y="276.2" text-anchor="middle" class="cap">(a)</text>
<rect x="387.6" y="4.8" width="292.7" height="212.4" fill="none" stroke="#414141" stroke-width="1.15"/>
<line x1="387.6" y1="217.2" x2="387.6" y2="220.5" stroke="#414141" stroke-width="1.1"/>
<text x="387.6" y="231.1" text-anchor="middle" class="tk">0.0</text>
<line x1="409.6" y1="217.2" x2="409.6" y2="219.0" stroke="#414141" stroke-width="1.1"/>
<line x1="431.7" y1="217.2" x2="431.7" y2="220.5" stroke="#414141" stroke-width="1.1"/>
<text x="431.7" y="231.1" text-anchor="middle" class="tk">0.1</text>
<line x1="453.7" y1="217.2" x2="453.7" y2="219.0" stroke="#414141" stroke-width="1.1"/>
<line x1="475.7" y1="217.2" x2="475.7" y2="220.5" stroke="#414141" stroke-width="1.1"/>
<text x="475.7" y="231.1" text-anchor="middle" class="tk">0.2</text>
<line x1="497.7" y1="217.2" x2="497.7" y2="219.0" stroke="#414141" stroke-width="1.1"/>
<line x1="519.8" y1="217.2" x2="519.8" y2="220.5" stroke="#414141" stroke-width="1.1"/>
<text x="519.8" y="231.1" text-anchor="middle" class="tk">0.3</text>
<line x1="541.8" y1="217.2" x2="541.8" y2="219.0" stroke="#414141" stroke-width="1.1"/>
<line x1="563.8" y1="217.2" x2="563.8" y2="220.5" stroke="#414141" stroke-width="1.1"/>
<text x="563.8" y="231.1" text-anchor="middle" class="tk">0.4</text>
<line x1="585.8" y1="217.2" x2="585.8" y2="219.0" stroke="#414141" stroke-width="1.1"/>
<line x1="607.9" y1="217.2" x2="607.9" y2="220.5" stroke="#414141" stroke-width="1.1"/>
<text x="607.9" y="231.1" text-anchor="middle" class="tk">0.5</text>
<line x1="629.9" y1="217.2" x2="629.9" y2="219.0" stroke="#414141" stroke-width="1.1"/>
<line x1="651.9" y1="217.2" x2="651.9" y2="220.5" stroke="#414141" stroke-width="1.1"/>
<text x="651.9" y="231.1" text-anchor="middle" class="tk">0.6</text>
<line x1="673.9" y1="217.2" x2="673.9" y2="219.0" stroke="#414141" stroke-width="1.1"/>
<line x1="384.3" y1="210.4" x2="387.6" y2="210.4" stroke="#414141" stroke-width="1.1"/>
<text x="380.6" y="214.4" text-anchor="end" class="tk">1.0</text>
<line x1="385.8" y1="195.7" x2="387.6" y2="195.7" stroke="#414141" stroke-width="1.1"/>
<line x1="384.3" y1="181.1" x2="387.6" y2="181.1" stroke="#414141" stroke-width="1.1"/>
<text x="380.6" y="185.1" text-anchor="end" class="tk">1.5</text>
<line x1="385.8" y1="166.4" x2="387.6" y2="166.4" stroke="#414141" stroke-width="1.1"/>
<line x1="384.3" y1="151.7" x2="387.6" y2="151.7" stroke="#414141" stroke-width="1.1"/>
<text x="380.6" y="155.7" text-anchor="end" class="tk">2.0</text>
<line x1="385.8" y1="137.0" x2="387.6" y2="137.0" stroke="#414141" stroke-width="1.1"/>
<line x1="384.3" y1="122.3" x2="387.6" y2="122.3" stroke="#414141" stroke-width="1.1"/>
<text x="380.6" y="126.3" text-anchor="end" class="tk">2.5</text>
<line x1="385.8" y1="107.7" x2="387.6" y2="107.7" stroke="#414141" stroke-width="1.1"/>
<line x1="384.3" y1="93.0" x2="387.6" y2="93.0" stroke="#414141" stroke-width="1.1"/>
<text x="380.6" y="97.0" text-anchor="end" class="tk">3.0</text>
<line x1="385.8" y1="78.3" x2="387.6" y2="78.3" stroke="#414141" stroke-width="1.1"/>
<line x1="384.3" y1="63.7" x2="387.6" y2="63.7" stroke="#414141" stroke-width="1.1"/>
<text x="380.6" y="67.7" text-anchor="end" class="tk">3.5</text>
<line x1="385.8" y1="49.0" x2="387.6" y2="49.0" stroke="#414141" stroke-width="1.1"/>
<line x1="384.3" y1="34.3" x2="387.6" y2="34.3" stroke="#414141" stroke-width="1.1"/>
<text x="380.6" y="38.3" text-anchor="end" class="tk">4.0</text>
<line x1="385.8" y1="19.6" x2="387.6" y2="19.6" stroke="#414141" stroke-width="1.1"/>
<line x1="384.3" y1="4.9" x2="387.6" y2="4.9" stroke="#414141" stroke-width="1.1"/>
<text x="380.6" y="8.9" text-anchor="end" class="tk">4.5</text>
<text x="534.0" y="250.0" text-anchor="middle" class="xl">Seismic Load (g)</text>
<text transform="translate(358.8,111.0) rotate(-90)" text-anchor="middle" class="yl">FOS</text>
<text x="512.6" y="276.2" text-anchor="middle" class="cap">(c)</text>
<rect x="38.0" y="299.3" width="292.8" height="212.0" fill="none" stroke="#414141" stroke-width="1.15"/>
<line x1="38.0" y1="511.3" x2="38.0" y2="514.6" stroke="#414141" stroke-width="1.1"/>
<text x="38.0" y="525.2" text-anchor="middle" class="tk">0.0</text>
<line x1="60.1" y1="511.3" x2="60.1" y2="513.1" stroke="#414141" stroke-width="1.1"/>
<line x1="82.2" y1="511.3" x2="82.2" y2="514.6" stroke="#414141" stroke-width="1.1"/>
<text x="82.2" y="525.2" text-anchor="middle" class="tk">0.1</text>
<line x1="104.2" y1="511.3" x2="104.2" y2="513.1" stroke="#414141" stroke-width="1.1"/>
<line x1="126.3" y1="511.3" x2="126.3" y2="514.6" stroke="#414141" stroke-width="1.1"/>
<text x="126.3" y="525.2" text-anchor="middle" class="tk">0.2</text>
<line x1="148.4" y1="511.3" x2="148.4" y2="513.1" stroke="#414141" stroke-width="1.1"/>
<line x1="170.5" y1="511.3" x2="170.5" y2="514.6" stroke="#414141" stroke-width="1.1"/>
<text x="170.5" y="525.2" text-anchor="middle" class="tk">0.3</text>
<line x1="192.5" y1="511.3" x2="192.5" y2="513.1" stroke="#414141" stroke-width="1.1"/>
<line x1="214.6" y1="511.3" x2="214.6" y2="514.6" stroke="#414141" stroke-width="1.1"/>
<text x="214.6" y="525.2" text-anchor="middle" class="tk">0.4</text>
<line x1="236.7" y1="511.3" x2="236.7" y2="513.1" stroke="#414141" stroke-width="1.1"/>
<line x1="258.8" y1="511.3" x2="258.8" y2="514.6" stroke="#414141" stroke-width="1.1"/>
<text x="258.8" y="525.2" text-anchor="middle" class="tk">0.5</text>
<line x1="280.8" y1="511.3" x2="280.8" y2="513.1" stroke="#414141" stroke-width="1.1"/>
<line x1="302.9" y1="511.3" x2="302.9" y2="514.6" stroke="#414141" stroke-width="1.1"/>
<text x="302.9" y="525.2" text-anchor="middle" class="tk">0.6</text>
<line x1="325.0" y1="511.3" x2="325.0" y2="513.1" stroke="#414141" stroke-width="1.1"/>
<line x1="34.7" y1="505.3" x2="38.0" y2="505.3" stroke="#414141" stroke-width="1.1"/>
<text x="31.0" y="509.3" text-anchor="end" class="tk">1.0</text>
<line x1="36.2" y1="490.6" x2="38.0" y2="490.6" stroke="#414141" stroke-width="1.1"/>
<line x1="34.7" y1="475.9" x2="38.0" y2="475.9" stroke="#414141" stroke-width="1.1"/>
<text x="31.0" y="479.9" text-anchor="end" class="tk">1.5</text>
<line x1="36.2" y1="461.2" x2="38.0" y2="461.2" stroke="#414141" stroke-width="1.1"/>
<line x1="34.7" y1="446.4" x2="38.0" y2="446.4" stroke="#414141" stroke-width="1.1"/>
<text x="31.0" y="450.4" text-anchor="end" class="tk">2.0</text>
<line x1="36.2" y1="431.7" x2="38.0" y2="431.7" stroke="#414141" stroke-width="1.1"/>
<line x1="34.7" y1="417.0" x2="38.0" y2="417.0" stroke="#414141" stroke-width="1.1"/>
<text x="31.0" y="421.0" text-anchor="end" class="tk">2.5</text>
<line x1="36.2" y1="402.3" x2="38.0" y2="402.3" stroke="#414141" stroke-width="1.1"/>
<line x1="34.7" y1="387.6" x2="38.0" y2="387.6" stroke="#414141" stroke-width="1.1"/>
<text x="31.0" y="391.6" text-anchor="end" class="tk">3.0</text>
<line x1="36.2" y1="372.9" x2="38.0" y2="372.9" stroke="#414141" stroke-width="1.1"/>
<line x1="34.7" y1="358.1" x2="38.0" y2="358.1" stroke="#414141" stroke-width="1.1"/>
<text x="31.0" y="362.1" text-anchor="end" class="tk">3.5</text>
<line x1="36.2" y1="343.4" x2="38.0" y2="343.4" stroke="#414141" stroke-width="1.1"/>
<line x1="34.7" y1="328.7" x2="38.0" y2="328.7" stroke="#414141" stroke-width="1.1"/>
<text x="31.0" y="332.7" text-anchor="end" class="tk">4.0</text>
<line x1="36.2" y1="314.0" x2="38.0" y2="314.0" stroke="#414141" stroke-width="1.1"/>
<line x1="34.7" y1="299.3" x2="38.0" y2="299.3" stroke="#414141" stroke-width="1.1"/>
<text x="31.0" y="303.3" text-anchor="end" class="tk">4.5</text>
<text x="184.4" y="544.1" text-anchor="middle" class="xl">Seismic Load (g)</text>
<text transform="translate(9.2,405.3) rotate(-90)" text-anchor="middle" class="yl">FOS</text>
<text x="163.0" y="570.3" text-anchor="middle" class="cap">(b)</text>
<rect x="386.6" y="298.2" width="295.8" height="215.8" fill="none" stroke="#414141" stroke-width="1.15"/>
<line x1="386.6" y1="514.0" x2="386.6" y2="517.3" stroke="#414141" stroke-width="1.1"/>
<text x="386.6" y="528.5" text-anchor="middle" class="tk bd">0.0</text>
<line x1="408.9" y1="514.0" x2="408.9" y2="515.8" stroke="#414141" stroke-width="1.1"/>
<line x1="431.1" y1="514.0" x2="431.1" y2="517.3" stroke="#414141" stroke-width="1.1"/>
<text x="431.1" y="528.5" text-anchor="middle" class="tk bd">0.1</text>
<line x1="453.4" y1="514.0" x2="453.4" y2="515.8" stroke="#414141" stroke-width="1.1"/>
<line x1="475.6" y1="514.0" x2="475.6" y2="517.3" stroke="#414141" stroke-width="1.1"/>
<text x="475.6" y="528.5" text-anchor="middle" class="tk bd">0.2</text>
<line x1="497.9" y1="514.0" x2="497.9" y2="515.8" stroke="#414141" stroke-width="1.1"/>
<line x1="520.1" y1="514.0" x2="520.1" y2="517.3" stroke="#414141" stroke-width="1.1"/>
<text x="520.1" y="528.5" text-anchor="middle" class="tk bd">0.3</text>
<line x1="542.4" y1="514.0" x2="542.4" y2="515.8" stroke="#414141" stroke-width="1.1"/>
<line x1="564.6" y1="514.0" x2="564.6" y2="517.3" stroke="#414141" stroke-width="1.1"/>
<text x="564.6" y="528.5" text-anchor="middle" class="tk bd">0.4</text>
<line x1="586.9" y1="514.0" x2="586.9" y2="515.8" stroke="#414141" stroke-width="1.1"/>
<line x1="609.1" y1="514.0" x2="609.1" y2="517.3" stroke="#414141" stroke-width="1.1"/>
<text x="609.1" y="528.5" text-anchor="middle" class="tk bd">0.5</text>
<line x1="631.4" y1="514.0" x2="631.4" y2="515.8" stroke="#414141" stroke-width="1.1"/>
<line x1="653.6" y1="514.0" x2="653.6" y2="517.3" stroke="#414141" stroke-width="1.1"/>
<text x="653.6" y="528.5" text-anchor="middle" class="tk bd">0.6</text>
<line x1="675.9" y1="514.0" x2="675.9" y2="515.8" stroke="#414141" stroke-width="1.1"/>
<line x1="383.3" y1="508.0" x2="386.6" y2="508.0" stroke="#414141" stroke-width="1.1"/>
<text x="379.6" y="512.0" text-anchor="end" class="tk bd">1.0</text>
<line x1="384.8" y1="493.0" x2="386.6" y2="493.0" stroke="#414141" stroke-width="1.1"/>
<line x1="383.3" y1="478.0" x2="386.6" y2="478.0" stroke="#414141" stroke-width="1.1"/>
<text x="379.6" y="482.0" text-anchor="end" class="tk bd">1.5</text>
<line x1="384.8" y1="463.0" x2="386.6" y2="463.0" stroke="#414141" stroke-width="1.1"/>
<line x1="383.3" y1="448.0" x2="386.6" y2="448.0" stroke="#414141" stroke-width="1.1"/>
<text x="379.6" y="452.0" text-anchor="end" class="tk bd">2.0</text>
<line x1="384.8" y1="433.0" x2="386.6" y2="433.0" stroke="#414141" stroke-width="1.1"/>
<line x1="383.3" y1="418.0" x2="386.6" y2="418.0" stroke="#414141" stroke-width="1.1"/>
<text x="379.6" y="422.0" text-anchor="end" class="tk bd">2.5</text>
<line x1="384.8" y1="403.0" x2="386.6" y2="403.0" stroke="#414141" stroke-width="1.1"/>
<line x1="383.3" y1="388.0" x2="386.6" y2="388.0" stroke="#414141" stroke-width="1.1"/>
<text x="379.6" y="392.0" text-anchor="end" class="tk bd">3.0</text>
<line x1="384.8" y1="373.0" x2="386.6" y2="373.0" stroke="#414141" stroke-width="1.1"/>
<line x1="383.3" y1="358.0" x2="386.6" y2="358.0" stroke="#414141" stroke-width="1.1"/>
<text x="379.6" y="362.0" text-anchor="end" class="tk bd">3.5</text>
<line x1="384.8" y1="343.0" x2="386.6" y2="343.0" stroke="#414141" stroke-width="1.1"/>
<line x1="383.3" y1="328.0" x2="386.6" y2="328.0" stroke="#414141" stroke-width="1.1"/>
<text x="379.6" y="332.0" text-anchor="end" class="tk bd">4.0</text>
<line x1="384.8" y1="313.0" x2="386.6" y2="313.0" stroke="#414141" stroke-width="1.1"/>
<line x1="383.3" y1="298.0" x2="386.6" y2="298.0" stroke="#414141" stroke-width="1.1"/>
<text x="379.6" y="302.0" text-anchor="end" class="tk bd">4.5</text>
<text x="534.5" y="547.6" text-anchor="middle" class="xl bd">Seismic Load (g)</text>
<text transform="translate(358.1,406.1) rotate(-90)" text-anchor="middle" class="yl bd">FOS</text>
<text x="513.1" y="573.0" text-anchor="middle" class="cap">(d)</text>
<line x1="129.0" y1="599.8" x2="159.5" y2="599.8" stroke="#8e2a34" stroke-width="1.5"/>
<text x="161.6" y="604.2" class="lg">FOS_(<tspan class="al">α</tspan><tspan class="sub" dy="3">hx</tspan><tspan dy="-3" font-size="1"> </tspan>)</text>
<line x1="129.0" y1="620.1" x2="159.5" y2="620.1" stroke="#0f8560" stroke-width="1.9" stroke-dasharray="7.5 3.2 1.8 3.2 1.8 3.2"/>
<text x="161.6" y="624.5" class="lg">FOS_(<tspan class="al">α</tspan><tspan class="sub" dy="3">hx</tspan><tspan dy="-3" font-size="1"> </tspan>+<tspan class="al">α</tspan><tspan class="sub" dy="3">vy</tspan><tspan dy="-3" font-size="1"> </tspan>+<tspan class="al">α</tspan><tspan class="sub" dy="3">hz</tspan><tspan dy="-3" font-size="1"> </tspan>)</text>
<line x1="129.0" y1="640.7" x2="159.5" y2="640.7" stroke="#3a7a44" stroke-width="1.1"/>
<text x="161.6" y="645.1" class="lg">FOS_(0.3*<tspan class="al">α</tspan><tspan class="sub" dy="3">hx</tspan><tspan dy="-3" font-size="1"> </tspan>+0.3*<tspan class="al">α</tspan><tspan class="sub" dy="3">vy</tspan><tspan dy="-3" font-size="1"> </tspan>+<tspan class="al">α</tspan><tspan class="sub" dy="3">hz</tspan><tspan dy="-3" font-size="1"> </tspan>)</text>
<line x1="129.0" y1="661.4" x2="159.5" y2="661.4" stroke="#d77fb4" stroke-width="1.9"/>
<text x="161.6" y="665.8" class="lg">FOS_(+<tspan class="al">α</tspan><tspan class="sub" dy="3">vy</tspan><tspan dy="-3" font-size="1"> </tspan>)</text>
<line x1="354.0" y1="599.8" x2="368.6" y2="599.8" stroke="#e02028" stroke-width="3.9" stroke-linecap="round"/>
<text x="386.8" y="604.2" class="lg">FOS_(<tspan class="al">α</tspan><tspan class="sub" dy="3">hx</tspan><tspan dy="-3" font-size="1"> </tspan>+0.3*<tspan class="al">α</tspan><tspan class="sub" dy="3">vy</tspan><tspan dy="-3" font-size="1"> </tspan>+0.3*<tspan class="al">α</tspan><tspan class="sub" dy="3">hz</tspan><tspan dy="-3" font-size="1"> </tspan>)</text>
<line x1="352.0" y1="620.1" x2="382.3" y2="620.1" stroke="#3044b0" stroke-width="1.8" stroke-dasharray="9.5 3.5 2 3.5"/>
<text x="386.8" y="624.5" class="lg">FOS_(0.3*<tspan class="al">α</tspan><tspan class="sub" dy="3">hx</tspan><tspan dy="-3" font-size="1"> </tspan>+<tspan class="al">α</tspan><tspan class="sub" dy="3">vy</tspan><tspan dy="-3" font-size="1"> </tspan>+0.3*<tspan class="al">α</tspan><tspan class="sub" dy="3">hz</tspan><tspan dy="-3" font-size="1"> </tspan>)</text>
<line x1="352.4" y1="640.7" x2="384.3" y2="640.7" stroke="#1c1c1c" stroke-width="2.0" stroke-dasharray="2 7.6"/>
<text x="386.8" y="645.1" class="lg">FOS_(−<tspan class="al">α</tspan><tspan class="sub" dy="3">vy</tspan><tspan dy="-3" font-size="1"> </tspan>)</text>
<line x1="352.0" y1="661.4" x2="382.3" y2="661.4" stroke="#e0a0da" stroke-width="1.9" stroke-dasharray="6.5 3 2 3"/>
<text x="386.8" y="665.8" class="lg">FOS_(<tspan class="al">α</tspan><tspan class="sub" dy="3">hz</tspan><tspan dy="-3" font-size="1"> </tspan>)</text>
</g>
</svg></body></html>
